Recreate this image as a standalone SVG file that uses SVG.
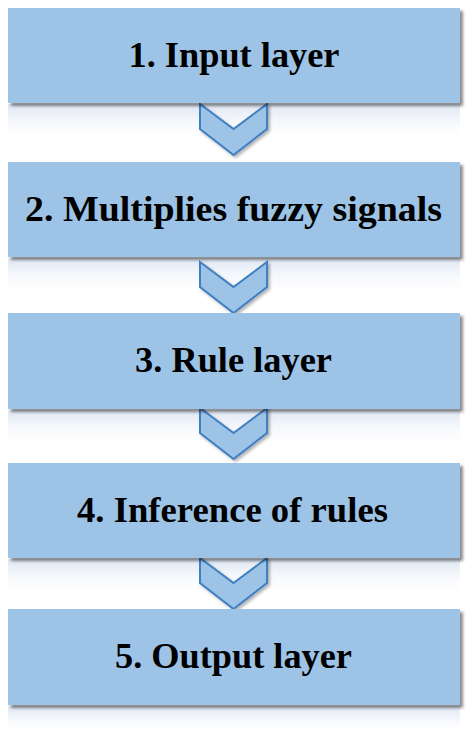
<svg xmlns="http://www.w3.org/2000/svg" width="474" height="737" viewBox="0 0 474 737">
<defs>
<filter id="sh" x="-5%" y="-10%" width="112%" height="130%">
<feDropShadow dx="3" dy="3" stdDeviation="1.8" flood-color="#000" flood-opacity="0.45"/>
</filter>
<filter id="shc" x="-20%" y="-20%" width="150%" height="150%">
<feDropShadow dx="2" dy="2" stdDeviation="1.5" flood-color="#000" flood-opacity="0.3"/>
</filter>
<linearGradient id="refl" x1="0" y1="0" x2="0" y2="1">
<stop offset="0" stop-color="#d9e3f1" stop-opacity="0.9"/>
<stop offset="1" stop-color="#ffffff" stop-opacity="0"/>
</linearGradient>
</defs>
<style>
.box{fill:#9dc3e6;filter:url(#sh)}
.refl{fill:url(#refl)}
.chev{fill:#9dc3e6;stroke:#3f7fc2;stroke-width:2;stroke-linejoin:miter;filter:url(#shc)}
.lbl{font-family:"Liberation Serif","Times New Roman",serif;font-weight:bold;font-size:36px;fill:#000;text-anchor:middle}
</style>
<rect width="474" height="737" fill="#ffffff"/>
<g id="reflections">
<rect class="refl" x="8" y="104" width="452" height="38"/>
<rect class="refl" x="8" y="258" width="452" height="38"/>
<rect class="refl" x="8" y="410" width="452" height="38"/>
<rect class="refl" x="8" y="559" width="452" height="38"/>
<rect class="refl" x="8" y="706" width="452" height="30"/>
</g>
<g id="connectors">
<polygon class="chev" points="200,104 233.5,129 267,104 267,129 233.5,155 200,129"/>
<polygon class="chev" points="200,262 233.5,287 267,262 267,287 233.5,313 200,287"/>
<polygon class="chev" points="200,408 233.5,433 267,408 267,433 233.5,459 200,433"/>
<polygon class="chev" points="200,558 233.5,583 267,558 267,583 233.5,609 200,583"/>
</g>
<g id="node1">
<rect class="box" x="8" y="8" width="452" height="95"/>
<text class="lbl" x="234" y="67" textLength="211" lengthAdjust="spacingAndGlyphs">1. Input layer</text>
</g>
<g id="node2">
<rect class="box" x="8" y="162" width="452" height="95"/>
<text class="lbl" x="233.5" y="221" textLength="417" lengthAdjust="spacingAndGlyphs">2. Multiplies fuzzy signals</text>
</g>
<g id="node3">
<rect class="box" x="8" y="313" width="452" height="96"/>
<text class="lbl" x="233.5" y="372" textLength="197" lengthAdjust="spacingAndGlyphs">3. Rule layer</text>
</g>
<g id="node4">
<rect class="box" x="8" y="463" width="452" height="95"/>
<text class="lbl" x="232.5" y="522" textLength="311" lengthAdjust="spacingAndGlyphs">4. Inference of rules</text>
</g>
<g id="node5">
<rect class="box" x="8" y="609" width="452" height="96"/>
<text class="lbl" x="233.5" y="668" textLength="237" lengthAdjust="spacingAndGlyphs">5. Output layer</text>
</g>
</svg>
